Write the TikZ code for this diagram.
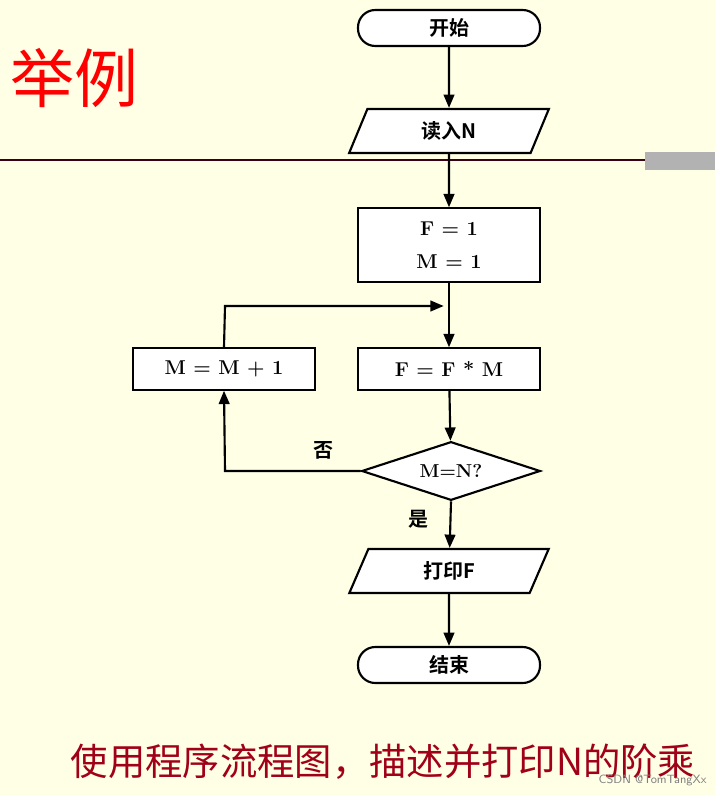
\documentclass[tikz,border=0pt]{standalone}
\usepackage{fontspec}
\newfontfamily\cjk{Noto Sans CJK SC}
\newfontfamily\cjkb{Noto Sans CJK SC Bold}
\usetikzlibrary{shapes.geometric,arrows.meta}
\definecolor{bg}{HTML}{FFFFE6}
\begin{document}
\begin{tikzpicture}[x=0.75pt,y=-0.75pt,
 line width=1.6pt,
 box/.style={draw,fill=white,minimum width=136.5pt,font=\cjkb\fontsize{15}{18}\selectfont,inner sep=0pt},
 term/.style={box,rounded corners=13pt,minimum height=27pt},
 io/.style={box,trapezium,trapezium left angle=72,trapezium right angle=108,minimum width=150pt,minimum height=33pt,trapezium stretches=true},
 arr/.style={-{Triangle[length=10pt,width=8pt]}},
 lbl/.style={font=\cjkb\fontsize{15}{18}\selectfont}]
\fill[bg] (0,0) rectangle (715,795);
\useasboundingbox (0,0) rectangle (715,795);
\node[text=red,font=\cjk\fontsize{48}{52}\selectfont,anchor=west] (title) at (5,78) {举例};
\draw[line width=1pt,color=black!70!purple] (0,160) -- (715,160);
\fill[gray!60] (645,152) rectangle (715,170);
\node[term] (start) at (449,28) {开始};
\node[io] (read) at (449,131) {读入N};
\node[box,minimum height=55pt,align=center,font=\bfseries\fontsize{15}{25}\selectfont] (init) at (449,245) {F = 1\\M = 1};
\node[box,minimum height=31pt,font=\bfseries\fontsize{15}{18}\selectfont] (mul) at (449,369) {F = F * M};
\node[box,minimum height=31pt,font=\bfseries\fontsize{15}{18}\selectfont] (inc) at (224,369) {M = M + 1};
\node[draw,fill=white,diamond,aspect=3,minimum width=134pt,minimum height=44pt,inner sep=0pt,font=\bfseries\fontsize{14}{16}\selectfont] (dec) at (451,471) {M=N?};
\node[io] (print) at (449,571) {打印F};
\node[term] (end) at (449,665) {结束};
\coordinate (c1) at (225,471);
\coordinate (c2) at (225,306);
\coordinate (c3) at (449,306);
\draw[arr] (start) -- (read);
\draw[arr] (read) -- (init);
\draw[arr] (init) -- (mul);
\draw[arr] (mul) -- (dec);
\draw[arr] (dec.south) -- (print);
\draw[arr] (print) -- (end);
\draw[arr] (dec.west) -- (c1) -- (inc.south);
\draw[arr] (inc.north) -- (c2) -- ([xshift=-4pt]c3);
\node[lbl] (no) at (323,450) {否};
\node[lbl] (yes) at (418,519) {是};
\node[font=\cjk\fontsize{28}{32}\selectfont,text=black!45!red!60!purple] (cap) at (383,762) {使用程序流程图，描述并打印N的阶乘};
\node[font=\sffamily\fontsize{9}{10}\selectfont,text=gray,anchor=east] (wm) at (712,780) {CSDN @TomTangXx};
\end{tikzpicture}
\end{document}
